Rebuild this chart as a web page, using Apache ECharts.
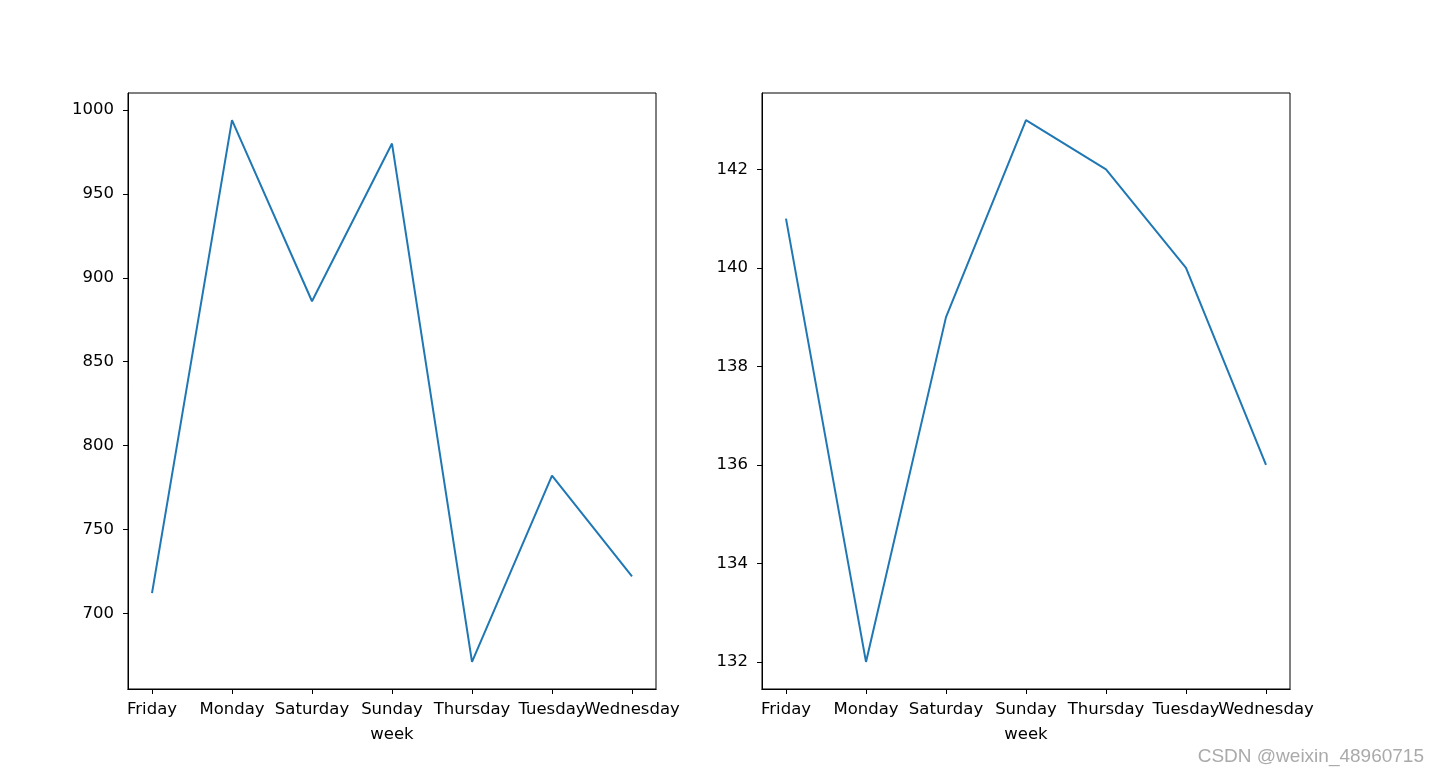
<!DOCTYPE html>
<html><head><meta charset="utf-8">
<script src="https://cdn.jsdelivr.net/npm/echarts@6/dist/echarts.min.js"></script>
<style>html,body{margin:0;padding:0;background:#fff}#c{width:1440px;height:774px}</style>
</head><body><div id="c"></div>
<script>
const categories = ['Friday','Monday','Saturday','Sunday','Thursday','Tuesday','Wednesday'];
const leftValues = [712, 994, 886, 980, 671, 782, 722];
const rightValues = [141, 132, 139, 143, 142, 140, 136];
const leftTicks = [700, 750, 800, 850, 900, 950, 1000];
const rightTicks = [132, 134, 136, 138, 140, 142];
const xName = 'week';

const chart = echarts.init(document.getElementById('c'));
const font = 'DejaVu Sans';
const fs = 16.5;
const idx = categories.map((c,i)=>i);
// labels split over two stacked axes so adjacent long labels are never dropped
function xAxis(grid, parity){
  const vals = idx.filter(i=>i%2===parity);
  return {
    type:'value', gridIndex:grid, min:-0.3, max:6.3, position:'bottom', offset:0,
    name: parity===0 ? xName : '', nameLocation:'middle', nameGap:37,
    nameTextStyle:{fontFamily:font,fontSize:fs,color:'#000'},
    axisLine:{show:true,onZero:false,lineStyle:{color:'#000',width:1}},
    axisTick:{show:true,length:5,inside:false,lineStyle:{color:'#000'},customValues:vals},
    axisLabel:{show:true,margin:12,fontFamily:font,fontSize:fs,color:'#000',hideOverlap:false,
      showMinLabel:true,showMaxLabel:true,
      customValues:vals,formatter:v=>categories[Math.round(v)]},
    splitLine:{show:false}
  };
}
function yAxis(grid,min,max,ticks){
  return {
    type:'value', gridIndex:grid, min:min, max:max,
    axisLine:{show:true,onZero:false,lineStyle:{color:'#000',width:1}},
    axisTick:{show:true,length:5,inside:false,lineStyle:{color:'#000'},customValues:ticks},
    axisLabel:{show:true,margin:14,fontFamily:font,fontSize:fs,color:'#000',hideOverlap:false,customValues:ticks,formatter:v=>String(v)},
    splitLine:{show:false}
  };
}
chart.setOption({
  animation:false,
  grid:[
    {left:128,top:93,width:528,height:596,show:true,borderColor:'#000',borderWidth:1,backgroundColor:'transparent'},
    {left:762,top:93,width:528,height:596,show:true,borderColor:'#000',borderWidth:1,backgroundColor:'transparent'}
  ],
  xAxis:[xAxis(0,0),xAxis(0,1),xAxis(1,0),xAxis(1,1)],
  yAxis:[yAxis(0,654.85,1010.15,leftTicks),yAxis(1,131.45,143.55,rightTicks)],
  series:[
    {type:'line',xAxisIndex:0,yAxisIndex:0,data:leftValues.map((v,i)=>[i,v]),showSymbol:false,lineStyle:{color:'#1f77b4',width:2},itemStyle:{color:'#1f77b4'}},
    {type:'line',xAxisIndex:2,yAxisIndex:1,data:rightValues.map((v,i)=>[i,v]),showSymbol:false,lineStyle:{color:'#1f77b4',width:2},itemStyle:{color:'#1f77b4'}}
  ],
  graphic:[{type:'text',right:16,top:747,style:{text:'CSDN @weixin_48960715',fill:'#aaaaaa',font:'19px "Liberation Sans", Arial, sans-serif'}}]
});
</script></body></html>
